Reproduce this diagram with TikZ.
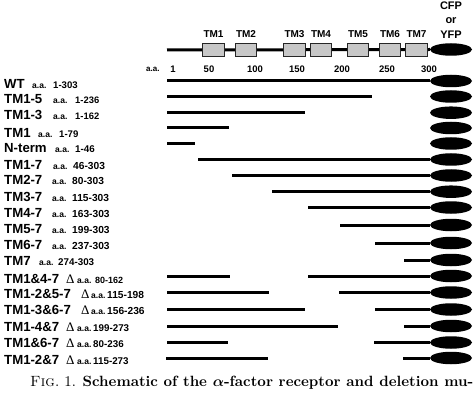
\documentclass[tikz,border=0pt]{standalone}
\usepackage{fontspec}
\usepackage{graphicx}
\newfontfamily\arial{Liberation Sans}
\newfontfamily\tnr{Liberation Serif}
\usetikzlibrary{shapes.geometric}
\begin{document}
\begin{tikzpicture}[x=1pt,y=-1pt,
  tag/.style={font=\arial\bfseries\fontsize{13.2}{13.2}\selectfont, anchor=base west, inner sep=0},
  aalab/.style={font=\arial\bfseries\fontsize{8.5}{8.5}\selectfont, anchor=base west, inner sep=0},
  dlab/.style={font=\tnr\fontsize{13}{13}\selectfont, anchor=base west, inner sep=0},
  seg/.style={line width=3pt},
  fp/.style={ellipse, fill=black, minimum width=42pt, minimum height=12.5pt, inner sep=0},
  tmbox/.style={draw=black!85, fill=black!22, line width=0.8pt, minimum width=21.5pt, minimum height=13pt, inner sep=0},
  tmlab/.style={font=\arial\bfseries\fontsize{10}{10}\selectfont, anchor=base, inner sep=0},
  scalelab/.style={font=\arial\bfseries\fontsize{9.5}{9.5}\selectfont, anchor=base, inner sep=0},
  fplab/.style={font=\arial\bfseries\fontsize{11}{11}\selectfont, anchor=base, inner sep=0}]
\useasboundingbox (0,0) rectangle (474,393);

% ---- top schematic ----
\node[fp] (topfp) at (451,49.5) {};
\coordinate (topstart) at (167,50);
\draw[seg] (topstart) -- (topfp.west);
\foreach \n/\x in {1/213.5,2/246,3/294.5,4/321,5/358,6/390,7/416.5}{
  \node[tmbox] (tm\n) at (\x,50) {};
  \node[tmlab] (tml\n) at (\x,37.7) {TM\n};
}
\node[fplab] (cfp) at (451,9.7) {CFP};
\node[fplab] (or) at (451,24) {or};
\node[fplab] (yfp) at (451,38.3) {YFP};

% ---- scale ----
\node[aalab, font=\arial\bfseries\fontsize{8}{8}\selectfont] (scaa) at (146,72) {a.a.};
\foreach \v/\x in {1/173,50/209,100/255,150/297,200/342,250/387,300/429}{
  \node[scalelab] (sc\v) at (\x,73) {\v};
}

% ---- row labels ----
\foreach \i/\b/\nm/\aax/\numx/\num/\nsz in {
  0/89/WT/32/53/1-303/9.6,
  1/104/TM1-5/53/75/1-236/9.4,
  2/120/TM1-3/53/75/1-162/9.4,
  3/137.5/TM1/38/59/1-79/9.6,
  4/152.5/N-term/55/75/1-46/9.8,
  5/169/TM1-7/53/73/46-303/10.2,
  6/184.5/TM2-7/52/72/80-303/10.2,
  7/201/TM3-7/52/72/115-303/10.2,
  8/217/TM4-7/52/72/163-303/10.2,
  9/233/TM5-7/52/72/199-303/10.2,
  10/249/TM6-7/52/72/237-303/10.2,
  11/265.5/TM7/39/58/274-303/9.8,
  12/283.5/TM1\&4-7/77/95/80-162/9,
  13/298.5/TM1-2\&5-7/91/107/115-198/10.2,
  14/314.5/TM1-3\&6-7/91/107/156-236/10.2,
  15/331/TM1-4\&7/77/93/199-273/9.8,
  16/347.5/TM1\&6-7/77/93/80-236/9.8,
  17/364/TM1-2\&7/77/93/115-273/9.8}{
  \node[tag] (n\i) at (4,\b) {\nm};
  \node[aalab] (a\i) at (\aax,\b) {a.a.};
  \node[aalab, font={\arial\bfseries\fontsize{\nsz}{\nsz}\selectfont}] (v\i) at (\numx,\b) {\num};
}
\foreach \i/\b/\dx in {12/283.5/66,13/298.5/81,14/314.5/81,15/331/66,16/347.5/66,17/364/66}{
  \node[dlab] (d\i) at (\dx,\b) {Δ};
}

% ---- fluorescent protein ellipses ----
\foreach \i/\y in {0/81,1/96.5,2/112.7,3/128,4/143.5,5/159.5,6/175.5,7/191.7,8/207.5,9/225,
  10/243,11/260,12/276,13/292.5,14/309.5,15/326,16/342.5,17/358}{
  \node[fp] (e\i) at (451,\y) {};
}

% ---- left segments (N-terminal parts) ----
\foreach \i/\y/\xa/\xb in {0/81/167/430,1/96.5/167/372,2/112.7/167/305,3/128/167/229,4/143.5/167/195,
  12/276/167/230,13/292.5/167/269,14/309.5/167/305,15/326/167/338,16/342.5/167/228,17/358/166/268}{
  \coordinate (l\i a) at (\xa,\y);
  \coordinate (l\i b) at (\xb,\y);
  \draw[seg] (l\i a) -- (l\i b);
}
% ---- right segments joined to the tag ----
\foreach \i/\y/\x in {5/159.5/198,6/175.5/232,7/191.7/272,8/207.5/308,9/225/340,10/243/375,11/260/404,
  12/276/308,13/292.5/339,14/309.5/375,15/326/404,16/342.5/374,17/358/403}{
  \coordinate (r\i) at (\x,\y);
  \draw[seg] (r\i) -- (e\i.west);
}

% ---- caption ----
\node[anchor=base west, inner sep=0] (cap) at (30,386)
  {\resizebox{443pt}{!}{\textsc{Fig.}~1. {\bfseries\boldmath Schematic of the $\alpha$-factor receptor and deletion mu-}}};
\end{tikzpicture}
\end{document}
